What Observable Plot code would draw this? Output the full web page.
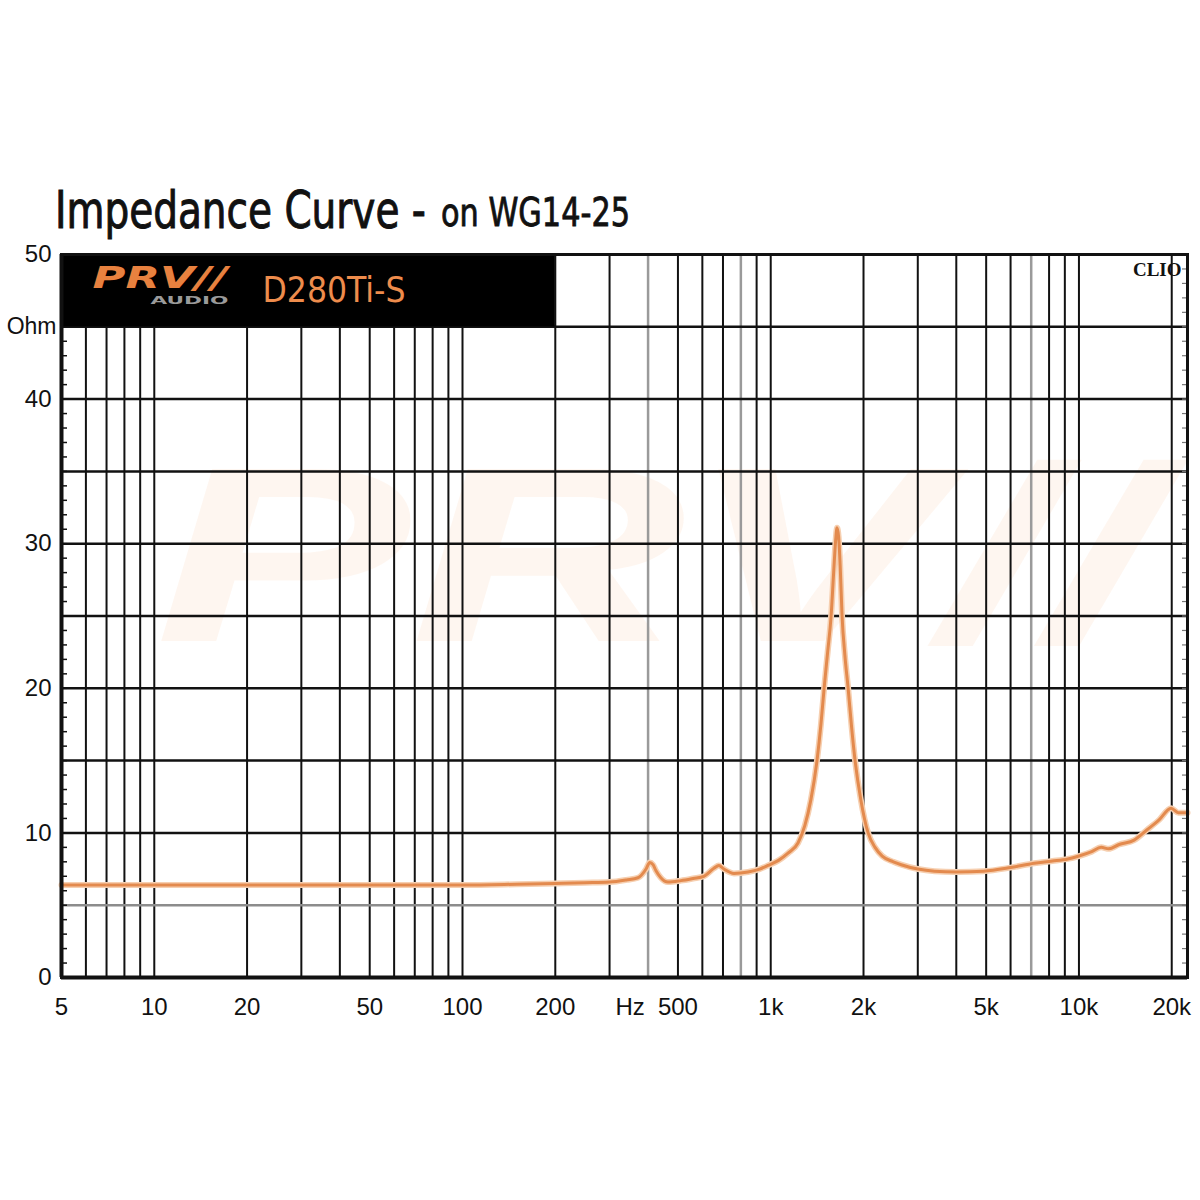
<!DOCTYPE html>
<html><head><meta charset="utf-8">
<script src="https://cdn.jsdelivr.net/npm/d3@7"></script>
<script src="https://cdn.jsdelivr.net/npm/@observablehq/plot@0.6"></script>
<style>
body{margin:0;background:#fff;}
#wrap{position:relative;width:1200px;height:1200px;overflow:hidden;}
#chart{position:absolute;left:0;top:0;}
#title{position:absolute;left:0;top:170px;}
</style></head><body>
<div id="wrap"><div id="chart"></div>
<svg id="title" width="1200" height="80" xmlns="http://www.w3.org/2000/svg">
  <text id="t1" font-family="DejaVu Sans Condensed, DejaVu Sans" fill="#111" stroke="#111" stroke-width="0.8" font-size="44">Impedance Curve -</text>
  <text id="t2" font-family="DejaVu Sans Condensed, DejaVu Sans" fill="#111" stroke="#111" stroke-width="0.7" font-size="34">on WG14-25</text>
</svg>
</div>
<script>
// ---- data ----
const freq = [5, 10, 20, 50, 100, 150, 200, 250, 300, 340, 371, 394, 405, 415, 424, 440, 464, 511, 560, 607, 654, 679, 705, 760, 844, 920, 980, 1060, 1138, 1226, 1290, 1350, 1413, 1455, 1490, 1530, 1570, 1600, 1625, 1641, 1660, 1680, 1704, 1740, 1783, 1830, 1878, 1960, 2070, 2180, 2300, 2500, 2650, 3000, 3400, 4000, 4900, 6000, 7160, 8200, 9200, 10000, 11000, 11800, 12500, 13500, 15100, 16600, 18200, 19900, 21000, 22500];
const ohm  = [6.4, 6.4, 6.4, 6.4, 6.4, 6.45, 6.5, 6.55, 6.6, 6.75, 6.9, 7.5, 7.95, 7.8, 7.4, 6.9, 6.6, 6.7, 6.85, 7.0, 7.55, 7.75, 7.5, 7.2, 7.3, 7.5, 7.75, 8.1, 8.6, 9.3, 10.5, 12.3, 15, 17.5, 20, 22.5, 25, 28, 30.3, 31.1, 30.5, 28.5, 25, 22.3, 20, 17.3, 15, 12.3, 10, 9.0, 8.4, 8.0, 7.8, 7.5, 7.35, 7.3, 7.35, 7.6, 7.9, 8.05, 8.2, 8.4, 8.7, 9.0, 8.9, 9.2, 9.5, 10.2, 10.9, 11.7, 11.4, 11.4];

const gridFreqBlack = [6, 7, 8, 9, 10, 20, 30, 40, 50, 60, 70, 80, 90, 100, 200, 300, 500, 600, 700, 900, 1000, 2000, 3000, 4000, 5000, 6000, 8000, 9000, 10000, 20000];
const gridFreqGray = [400, 800, 7000];
const gridOhmBlack = [10, 15, 20, 25, 30, 35, 40, 45];
const gridOhmGray = [5];
const minorOhm = d3.range(0, 51);

const xTicks = [5, 10, 20, 50, 100, 200, 500, 1000, 2000, 5000, 10000, 20000];
const xTickLabels = ["5", "10", "20", "50", "100", "200", "500", "1k", "2k", "5k", "10k", "20k"];
const yTicks = [0, 10, 20, 30, 40, 50];
const yTickLabels = ["0", "10", "20", "30", "40", "50"];
const xUnit = [{value: 350, label: "Hz"}];
const yUnit = [{value: 45, label: "Ohm"}];
const logoBox = [{from: 5, to: 200, low: 45, high: 50}];
const brand = ["PRV//"];
const brandSub = ["AUDIO"];
const model = ["D280Ti-S"];
const software = ["CLIO"];
const watermark = ["PRV//"];

const data = freq.map((f, i) => ({f, z: ohm[i]}));
const xLabelData = xTicks.map((t, i) => ({t, label: xTickLabels[i]}));
const yLabelData = yTicks.map((t, i) => ({t, label: yTickLabels[i]}));

const W = 1200, H = 1200, mL = 61, mR = 13, mT = 254, mB = 223;
const innerW = W - mL - mR;

const orange = "#e38a4e";

const plot = Plot.plot({
  width: W, height: H,
  marginTop: mT, marginBottom: mB, marginLeft: mL, marginRight: mR,
  x: {type: "log", domain: [5, 22500], axis: null},
  y: {domain: [0, 50], axis: null},
  style: {fontFamily: "Liberation Sans, Arial, sans-serif", background: "white", color: "#111"},
  marks: [
    Plot.text(watermark, {frameAnchor: "middle", dx: 30, dy: -55, text: d => d, fontSize: 250, fontWeight: "bold", fontStyle: "italic", fill: "#fbe6d4", fillOpacity: 0.35, className: "wm"}),
    Plot.ruleX(gridFreqBlack, {stroke: "#111", strokeWidth: 2}),
    Plot.ruleX(gridFreqGray, {stroke: "#9a9a9a", strokeWidth: 2.5}),
    Plot.ruleY(gridOhmBlack, {stroke: "#111", strokeWidth: 2.5}),
    Plot.ruleY(gridOhmGray, {stroke: "#8c8c8c", strokeWidth: 2.5}),
    Plot.tickY(minorOhm, {y: d => d, stroke: "#111", strokeWidth: 1.5, insetRight: innerW - 6}),
    Plot.tickY(minorOhm, {y: d => d, stroke: "#777", strokeWidth: 1.2, insetLeft: innerW - 5}),
    Plot.rect(logoBox, {x1: "from", x2: "to", y1: "low", y2: "high", fill: "black"}),
    Plot.text(brand, {frameAnchor: "top-left", dx: 31, dy: 24, text: d => d, textAnchor: "start", lineAnchor: "middle", fontSize: 30, fontWeight: "bold", fontStyle: "italic", fontFamily: "DejaVu Sans, sans-serif", fill: "#e8813f", className: "brand"}),
    Plot.text(brandSub, {frameAnchor: "top-left", dx: 89, dy: 46, text: d => d, textAnchor: "start", lineAnchor: "middle", fontSize: 11, fontWeight: "bold", fontFamily: "DejaVu Sans, sans-serif", fill: "#9a9a9a", className: "sub"}),
    Plot.text(model, {frameAnchor: "top-left", dx: 201, dy: 36, text: d => d, textAnchor: "start", lineAnchor: "middle", fontSize: 35, fontFamily: "DejaVu Sans Condensed, DejaVu Sans", fill: "#ee8c4c", className: "model"}),
    Plot.text(software, {frameAnchor: "top-right", dx: -6, dy: 15, text: d => d, textAnchor: "end", lineAnchor: "middle", fontSize: 19, fontWeight: "bold", fontFamily: "Liberation Serif, DejaVu Serif, serif", fill: "#111"}),
    Plot.line(data, {x: "f", y: "z", stroke: "#f6cfb0", strokeWidth: 6, curve: "monotone-x"}),
    Plot.line(data, {x: "f", y: "z", stroke: orange, strokeWidth: 3, curve: "monotone-x"}),
    Plot.frame({stroke: "#111", strokeWidth: 3}),
    Plot.ruleX([5], {stroke: "#111", strokeWidth: 4}),
    Plot.ruleY([0], {stroke: "#111", strokeWidth: 4}),
    Plot.text(xLabelData, {x: "t", frameAnchor: "bottom", dy: 30, text: "label", fontSize: 24, lineAnchor: "middle", fill: "#111"}),
    Plot.text(xUnit, {x: "value", frameAnchor: "bottom", dy: 30, text: "label", fontSize: 24, lineAnchor: "middle", fill: "#111"}),
    Plot.text(yLabelData, {y: "t", frameAnchor: "left", dx: -10, text: "label", textAnchor: "end", fontSize: 24, lineAnchor: "middle", fill: "#111"}),
    Plot.text(yUnit, {y: "value", frameAnchor: "left", dx: -5, text: "label", textAnchor: "end", fontSize: 23, lineAnchor: "middle", fill: "#111"})
  ]
});
document.getElementById("chart").appendChild(plot);

// fit decorative texts to their widths in the reference
const fit = (cls, len) => d3.select(plot).selectAll(`.${cls} text`).attr("textLength", len).attr("lengthAdjust", "spacingAndGlyphs");
fit("wm", 1000);
fit("brand", 135);
fit("sub", 78);
fit("model", 143);

// title: size each part so its natural width matches, then stretch vertically to the reference cap height
function fitTitle(id, x, baseline, width, capHeight) {
  const el = document.getElementById(id);
  const f0 = parseFloat(el.getAttribute("font-size"));
  const w = el.getComputedTextLength();
  const f = f0 * width / w;
  el.setAttribute("font-size", f);
  const sy = capHeight / (0.729 * f);
  el.setAttribute("transform", `translate(${x},${baseline}) scale(1,${sy})`);
}
fitTitle("t1", 55, 58, 371, 38);
fitTitle("t2", 441, 56, 189, 28);
</script>
</body></html>
